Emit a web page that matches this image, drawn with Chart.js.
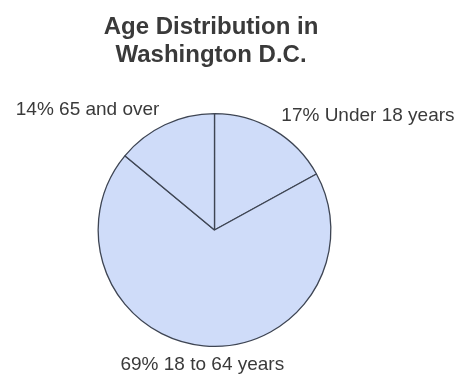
<!DOCTYPE html>
<html>
<head>
<meta charset="utf-8">
<script src="https://cdn.jsdelivr.net/npm/chart.js@4"></script>
<style>
  html, body { margin: 0; padding: 0; background: #fff; }
  #wrap { width: 474px; height: 388px; position: relative; }
</style>
</head>
<body>
<div id="wrap"><canvas id="pieChart"></canvas></div>
<script>
const titleLines = ['Age Distribution in', 'Washington D.C.'];
const categories = ['Under 18 years', '18 to 64 years', '65 and over'];
const shares = [17, 69, 14];

const textColor = '#3a3a3a';
const fillColor = '#cfdcf9';
const edgeColor = '#3e4553';

// title + outside labels, drawn after the pie
const labelPlugin = {
  id: 'outsideLabels',
  afterDraw(chart) {
    const ctx = chart.ctx;
    ctx.save();
    ctx.fillStyle = textColor;
    ctx.textAlign = 'center';
    ctx.textBaseline = 'alphabetic';
    ctx.font = 'bold 24px "Liberation Sans", Arial, sans-serif';
    ctx.fillText(titleLines[0], 211, 34);
    ctx.fillText(titleLines[1], 211, 62);

    ctx.font = '19px "Liberation Sans", Arial, sans-serif';
    ctx.textBaseline = 'middle';
    const meta = chart.getDatasetMeta(0);
    meta.data.forEach((arc, i) => {
      const mid = (arc.startAngle + arc.endAngle) / 2;
      const r = arc.outerRadius + 13;
      const x = arc.x + Math.cos(mid) * r;
      const y = arc.y + Math.sin(mid) * r;
      const c = Math.cos(mid);
      ctx.textAlign = c > 0.3 ? 'left' : c < -0.3 ? 'right' : 'center';
      const dy = Math.sin(mid) > 0.9 ? 6 : -3;
      ctx.fillText(`${shares[i]}% ${categories[i]}`, x + (c > 0.3 ? 1 : 0), y + dy);
    });
    ctx.restore();
  },
};

new Chart(document.getElementById('pieChart'), {
  type: 'pie',
  data: {
    labels: categories,
    datasets: [{
      data: shares,
      backgroundColor: fillColor,
      borderColor: edgeColor,
      borderWidth: 1.3,
    }],
  },
  options: {
    responsive: true,
    maintainAspectRatio: false,
    animation: false,
    layout: { padding: { top: 113, bottom: 41, left: 20, right: 65 } },
    plugins: {
      legend: { display: false },
      tooltip: { enabled: false },
      title: { display: false },
    },
  },
  plugins: [labelPlugin],
});
</script>
</body>
</html>
